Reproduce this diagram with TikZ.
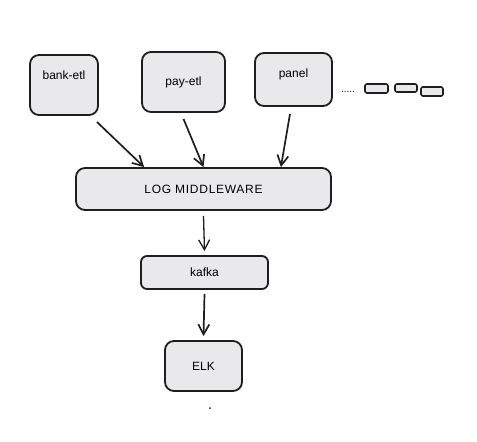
\documentclass[tikz,border=0pt]{standalone}
\usepackage{fontspec}
\setmainfont{Liberation Sans}
\usetikzlibrary{arrows.meta}
\definecolor{boxfill}{HTML}{E9E9EC}
\definecolor{ink}{HTML}{1E1E1E}
\newcommand{\uptext}[2]{\raisebox{#1}[0pt][0pt]{#2}}
\begin{document}
\begin{tikzpicture}
    [x=1pt,y=-1pt,
     box/.style={draw=ink,fill=boxfill,line width=1.8pt,rounded corners=9pt,
       inner sep=0pt,font=\fontsize{12}{14}\selectfont},
     chip/.style={draw=ink,fill=boxfill,line width=1.6pt,rounded corners=2pt,inner sep=0pt},
     arr/.style={draw=ink,line width=1.7pt,-{Straight Barb[length=10pt,width=11pt]}}]
    \useasboundingbox (0,0) rectangle (477,442);
    \node[box,minimum width=68pt,minimum height=60pt] (bank) at (64,85) {\uptext{6pt}{bank-etl}};
    \node[box,minimum width=83pt,minimum height=60pt] (pay) at (183.5,82) {pay-etl};
    \node[box,minimum width=77pt,minimum height=53pt] (panel) at (293.5,79.5) {\uptext{2pt}{panel}};
    \node[font=\fontsize{10}{10}\selectfont] (dots) at (348,92) {.....};
    \node[chip,minimum width=23pt,minimum height=9pt] (c1) at (376.5,88.5) {};
    \node[chip,minimum width=22pt,minimum height=8pt] (c2) at (406,88) {};
    \node[chip,minimum width=22pt,minimum height=9pt] (c3) at (432,91.5) {};
    \node[box,minimum width=255pt,minimum height=42pt] (mw) at (203.5,189)
      {\addfontfeature{LetterSpace=6}LOG MIDDLEWARE};
    \node[box,rounded corners=6pt,minimum width=127pt,minimum height=33pt] (kafka) at (204.5,272.5) {kafka};
    \node[box,minimum width=77pt,minimum height=50pt] (elk) at (203.5,366) {ELK};
    \node[circle,fill=ink,inner sep=0pt,minimum size=2pt] (dot) at (210,408) {};

    \draw[arr] ([xshift=-2pt,yshift=-6pt]bank.south east) -- ([xshift=69pt]mw.north west);
    \draw[arr] ([yshift=-6pt]pay.south) -- (mw.north);
    \draw[arr] ([xshift=-3.5pt,yshift=-7pt]panel.south) -- ([xshift=-51pt]mw.north east);
    \draw[arr,line width=1.3pt] ([yshift=-5pt]mw.south) -- ([yshift=4pt]kafka.north);
    \draw[arr] ([yshift=-4pt]kafka.south) -- ([yshift=4pt]elk.north);
\end{tikzpicture}
\end{document}
